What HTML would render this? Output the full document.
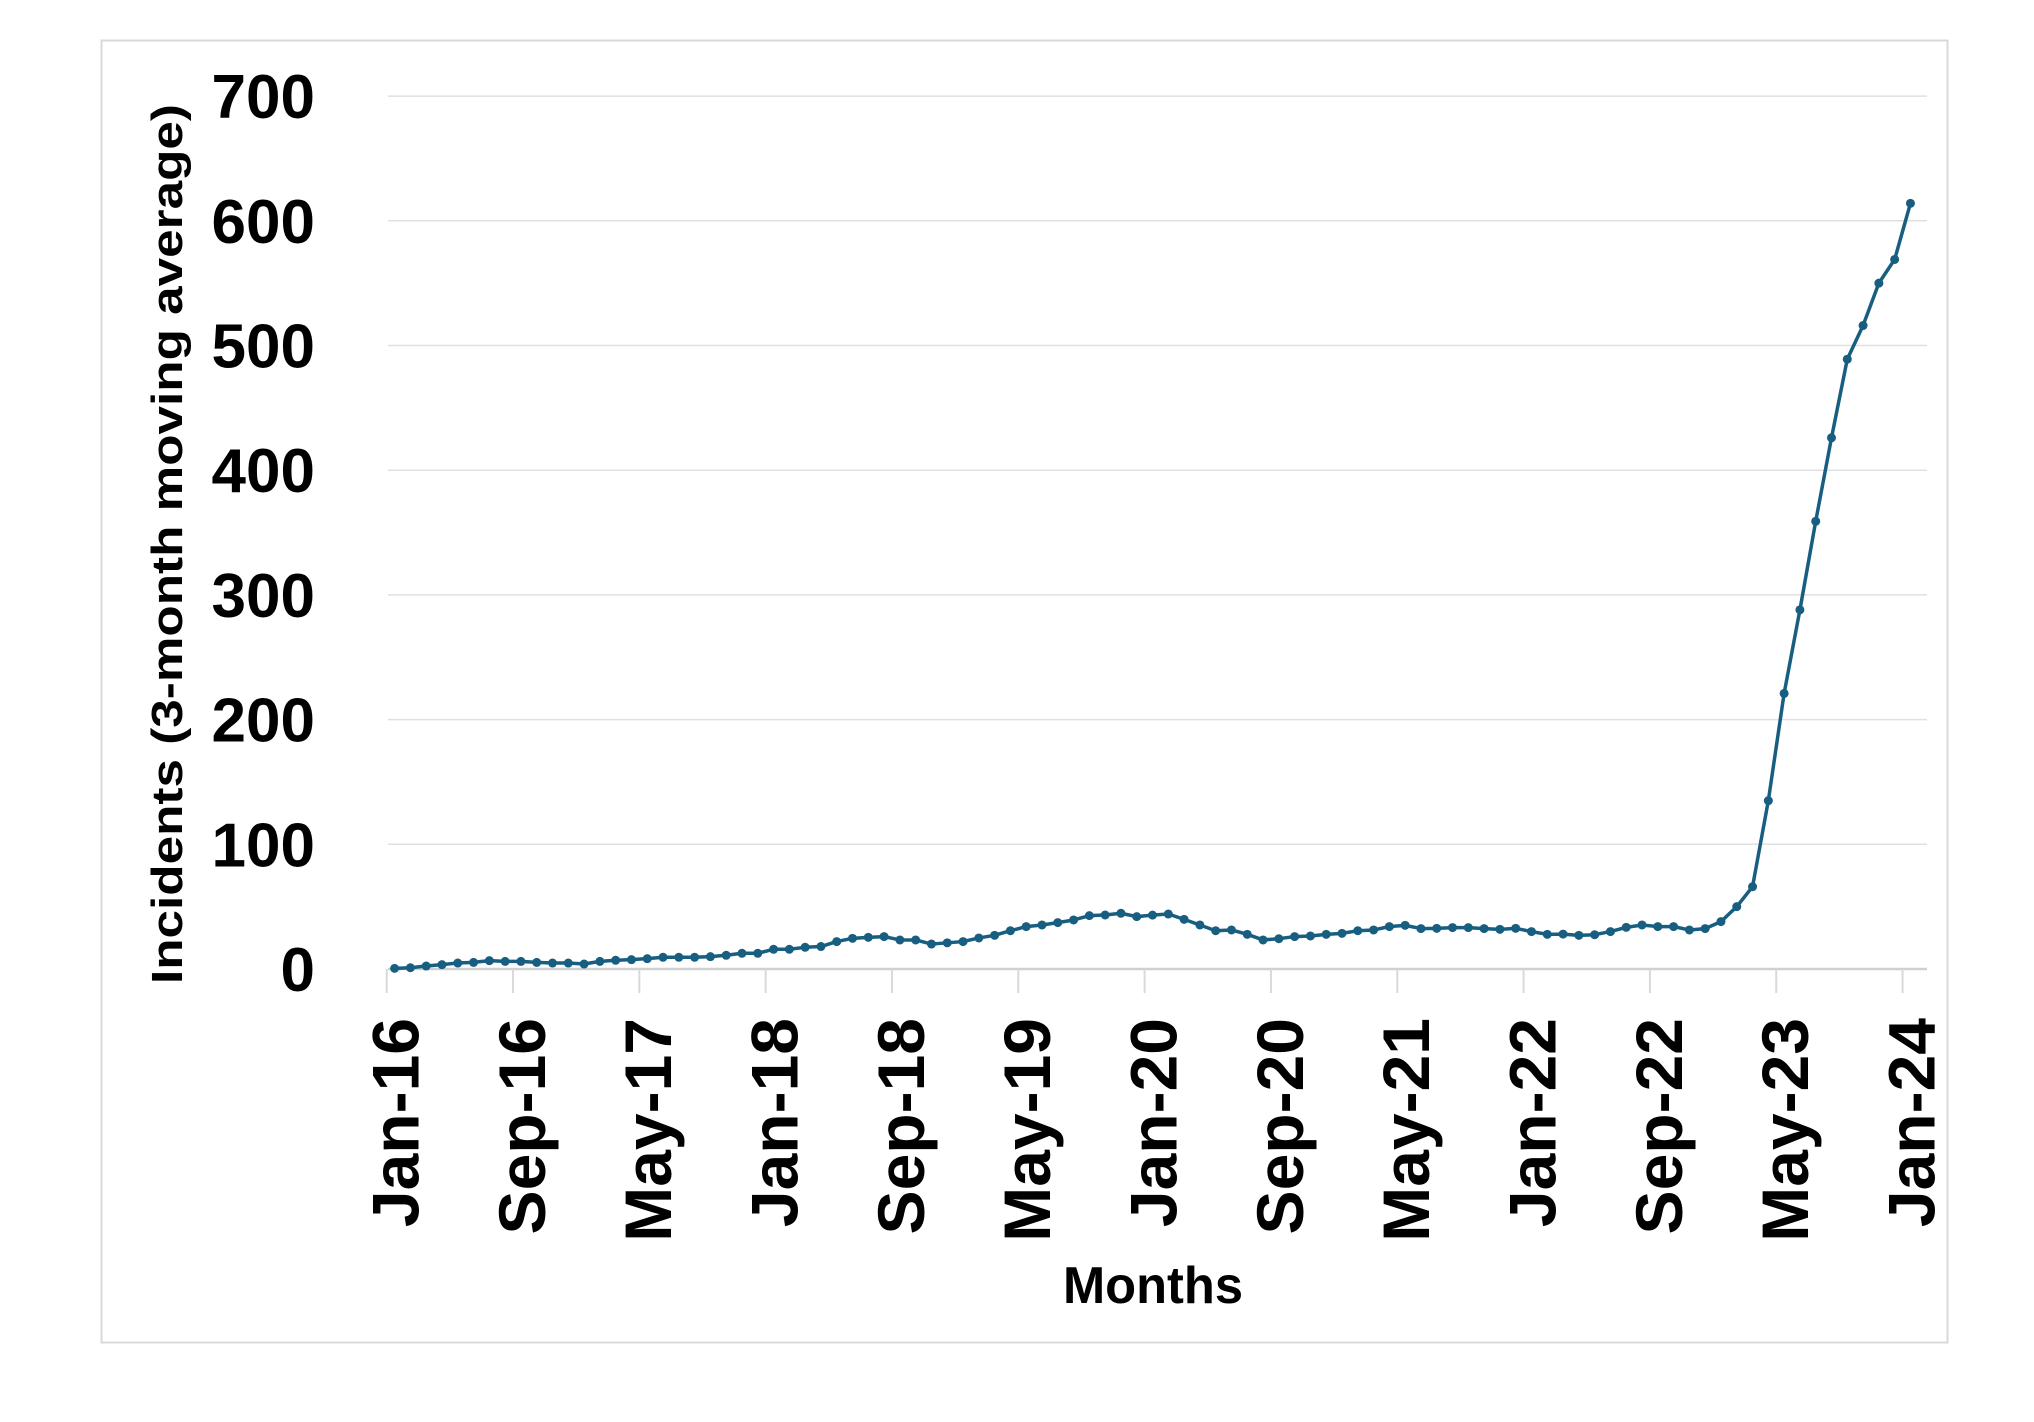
<!DOCTYPE html>
<html><head><meta charset="utf-8"><style>
html,body{margin:0;padding:0;background:#fff;}
svg{display:block;}
text{font-family:"Liberation Sans",sans-serif;font-weight:bold;fill:#000;}
</style></head><body>
<svg id="chart" width="2034" height="1422" viewBox="0 0 2034 1422" xmlns="http://www.w3.org/2000/svg">
<rect x="101.5" y="40.5" width="1846" height="1302" fill="#fff" stroke="#d9d9d9" stroke-width="2"/>
<g id="grid"></g><g id="xticks"></g><g id="ylabels"></g><g id="xlabels"></g><g id="series"></g>
<text transform="translate(182,544) rotate(-90)" text-anchor="middle" font-size="44" textLength="880" lengthAdjust="spacingAndGlyphs">Incidents (3-month moving average)</text>
<text x="1153" y="1303" text-anchor="middle" font-size="52" textLength="180" lengthAdjust="spacingAndGlyphs">Months</text>
</svg>
<script>
const yTicks = [0,100,200,300,400,500,600,700];
const xTickLabels = ["Jan-16","Sep-16","May-17","Jan-18","Sep-18","May-19","Jan-20","Sep-20","May-21","Jan-22","Sep-22","May-23","Jan-24"];
const incidents = [0.5,1,2.4,3.5,4.8,5.3,6.7,6.1,6.1,5.3,4.8,4.8,4,6.1,7,7.5,8.3,9.4,9.4,9.4,9.9,11,12.6,12.6,
15.8,15.8,17.4,18,22,24.6,25.4,26,23.3,23.3,20,21,22,24.9,27,30.7,34,35.3,37.2,39.3,42.8,43.3,44.7,42,43.2,44.1,
39.8,35.3,30.7,31.3,27.8,23.3,24.3,26,26.5,27.8,28.6,30.7,31.3,34,35,32.4,32.6,33.2,33.2,32.4,31.8,32.6,
30,27.8,28,27,27.5,30,33.4,35.3,34,34,31.3,32.4,38,50,66,135,221,288,359,426,489,516,550,569,614];
const NS="http://www.w3.org/2000/svg";
const X0=394.6, DX=15.79, Y0=969, DY=1.247;
function xPos(i){return X0+i*DX;}
function yPos(v){return Y0-v*DY;}
function mk(tag,parent){const e=document.createElementNS(NS,tag);document.getElementById(parent).appendChild(e);return e;}
yTicks.forEach(v=>{
  const g=mk('line','grid');
  
  
  g.setAttribute('x1',388);g.setAttribute('x2',1927);g.setAttribute('y1',yPos(v));g.setAttribute('y2',yPos(v));
  g.setAttribute('stroke',v===0?'#d0d0d0':'#e0e0e0');g.setAttribute('stroke-width',v===0?2.5:1.5);
  const t=mk('text','ylabels');
  
  
  t.setAttribute('x',315);t.setAttribute('y',yPos(v)+22);t.setAttribute('text-anchor','end');t.setAttribute('font-size','62');
  t.textContent=v;
});
xTickLabels.forEach((lab,k)=>{
  const i=k*8;
  const tk=mk('line','xticks');
  
  
  const tx=xPos(i)-DX/2;
  tk.setAttribute('x1',tx);tk.setAttribute('x2',tx);tk.setAttribute('y1',Y0);tk.setAttribute('y2',Y0+24);
  tk.setAttribute('stroke','#d9d9d9');tk.setAttribute('stroke-width',2);
  const t=mk('text','xlabels');
  
  
  t.setAttribute('transform','translate('+(xPos(i)+24)+',1018) rotate(-90)');
  t.setAttribute('text-anchor','end');t.setAttribute('font-size','66');
  t.textContent=lab;
});
const pl=mk('polyline','series');


pl.setAttribute('points',incidents.map((v,i)=>xPos(i)+','+yPos(v)).join(' '));
pl.setAttribute('fill','none');pl.setAttribute('stroke','#175e80');pl.setAttribute('stroke-width',3.5);pl.setAttribute('stroke-linejoin','round');
incidents.forEach((v,i)=>{
  const c=mk('circle','series');
  
  
  c.setAttribute('cx',xPos(i));c.setAttribute('cy',yPos(v));c.setAttribute('r',4.5);c.setAttribute('fill','#175e80');
});
</script>
</body></html>
